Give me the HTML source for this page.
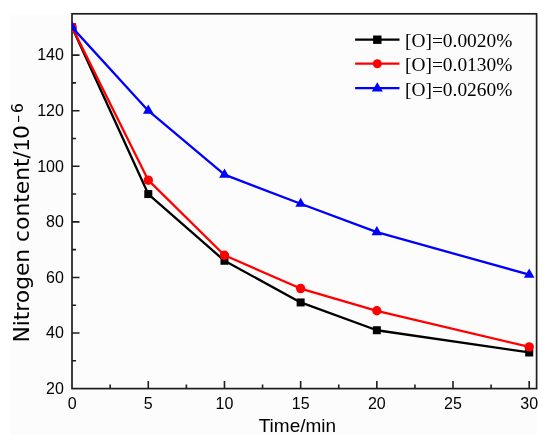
<!DOCTYPE html>
<html><head><meta charset="utf-8"><style>
html,body{margin:0;padding:0;background:#fff;width:550px;height:444px;overflow:hidden}
svg{display:block}
</style></head><body>
<svg width="550" height="444" viewBox="0 0 550 444">
<rect x="0" y="0" width="550" height="444" fill="#fff"/>
<rect x="10" y="15" width="527" height="420" fill="#fcfcfc"/>
<defs><clipPath id="pc"><rect x="72.0" y="13.8" width="464.6" height="374.8"/></clipPath></defs>
<rect x="72.0" y="13.8" width="464.60" height="374.80" fill="none" stroke="#1e1e1e" stroke-width="1.7"/>
<path d="M72.0,360.81h4M72.0,333.02h7.5M72.0,305.23h4M72.0,277.44h7.5M72.0,249.65h4M72.0,221.86h7.5M72.0,194.07h4M72.0,166.28h7.5M72.0,138.49h4M72.0,110.70h7.5M72.0,82.91h4M72.0,55.12h7.5M72.0,27.33h4M110.19,388.6v-4M148.28,388.6v-7.5M186.38,388.6v-4M224.47,388.6v-7.5M262.56,388.6v-4M300.65,388.6v-7.5M338.75,388.6v-4M376.84,388.6v-7.5M414.93,388.6v-4M453.02,388.6v-7.5M491.12,388.6v-4M529.21,388.6v-7.5" stroke="#1e1e1e" stroke-width="1.6" fill="none"/>
<g clip-path="url(#pc)"><polyline points="72.10,27.33 148.28,194.07 224.47,260.77 300.65,302.45 376.84,330.24 529.21,352.47" fill="none" stroke="#000" stroke-width="2.3" stroke-linejoin="round"/><rect x="68.10" y="23.33" width="8" height="8" fill="#000"/><rect x="144.28" y="190.07" width="8" height="8" fill="#000"/><rect x="220.47" y="256.77" width="8" height="8" fill="#000"/><rect x="296.65" y="298.45" width="8" height="8" fill="#000"/><rect x="372.84" y="326.24" width="8" height="8" fill="#000"/><rect x="525.21" y="348.47" width="8" height="8" fill="#000"/><polyline points="72.10,27.33 148.28,180.18 224.47,255.21 300.65,288.56 376.84,310.79 529.21,346.92" fill="none" stroke="#f00" stroke-width="2.3" stroke-linejoin="round"/><circle cx="72.10" cy="27.33" r="4.7" fill="#f00"/><circle cx="148.28" cy="180.18" r="4.7" fill="#f00"/><circle cx="224.47" cy="255.21" r="4.7" fill="#f00"/><circle cx="300.65" cy="288.56" r="4.7" fill="#f00"/><circle cx="376.84" cy="310.79" r="4.7" fill="#f00"/><circle cx="529.21" cy="346.92" r="4.7" fill="#f00"/><polyline points="72.10,27.33 148.28,110.70 224.47,174.62 300.65,203.80 376.84,232.14 529.21,274.66" fill="none" stroke="#00f" stroke-width="2.3" stroke-linejoin="round"/><polygon points="72.10,21.20 77.40,30.40 66.80,30.40" fill="#00f"/><polygon points="148.28,104.57 153.59,113.77 142.98,113.77" fill="#00f"/><polygon points="224.47,168.48 229.77,177.68 219.17,177.68" fill="#00f"/><polygon points="300.65,197.66 305.95,206.86 295.35,206.86" fill="#00f"/><polygon points="376.84,226.01 382.14,235.21 371.54,235.21" fill="#00f"/><polygon points="529.21,268.53 534.51,277.73 523.91,277.73" fill="#00f"/></g>
<g font-family="Liberation Sans, sans-serif" font-size="16" fill="#000">
<text x="63.9" y="393.90" text-anchor="end">20</text>
<text x="63.9" y="338.32" text-anchor="end">40</text>
<text x="63.9" y="282.74" text-anchor="end">60</text>
<text x="63.9" y="227.16" text-anchor="end">80</text>
<text x="63.9" y="171.58" text-anchor="end">100</text>
<text x="63.9" y="116.00" text-anchor="end">120</text>
<text x="63.9" y="60.42" text-anchor="end">140</text>
<text x="72.10" y="409" text-anchor="middle">0</text>
<text x="148.28" y="409" text-anchor="middle">5</text>
<text x="224.47" y="409" text-anchor="middle">10</text>
<text x="300.65" y="409" text-anchor="middle">15</text>
<text x="376.84" y="409" text-anchor="middle">20</text>
<text x="453.02" y="409" text-anchor="middle">25</text>
<text x="529.21" y="409" text-anchor="middle">30</text>
</g>
<text x="297.4" y="431.6" text-anchor="middle" font-family="Liberation Sans, sans-serif" font-size="19" fill="#000">Time/min</text>
<g transform="translate(28.6,342.6) rotate(-90)" font-family="DejaVu Sans, sans-serif" fill="#000"><text x="0" y="0" font-size="21.8">Nitrogen content/<tspan font-family="Liberation Sans, sans-serif">1</tspan>0</text><text x="219.9" y="-5.7" font-size="15.5">–</text><text x="229.7" y="-5.7" font-size="15.5">6</text></g>
<g font-family="Liberation Serif, serif" font-size="19.4" fill="#000">
<line x1="355.1" y1="39.7" x2="399.5" y2="39.7" stroke="#000" stroke-width="2.3"/>
<rect x="373.10" y="35.50" width="8.4" height="8.4" fill="#000"/>
<text x="405" y="47.10">[O]=0.0020%</text>
<line x1="355.1" y1="63.7" x2="399.5" y2="63.7" stroke="#f00" stroke-width="2.3"/>
<circle cx="377.3" cy="63.7" r="4.5" fill="#f00"/>
<text x="405" y="71.10">[O]=0.0130%</text>
<line x1="355.1" y1="88.1" x2="399.5" y2="88.1" stroke="#00f" stroke-width="2.3"/>
<polygon points="377.30,82.33 382.80,91.43 371.80,91.43" fill="#00f"/>
<text x="405" y="95.50">[O]=0.0260%</text>
</g>
</svg>
</body></html>
